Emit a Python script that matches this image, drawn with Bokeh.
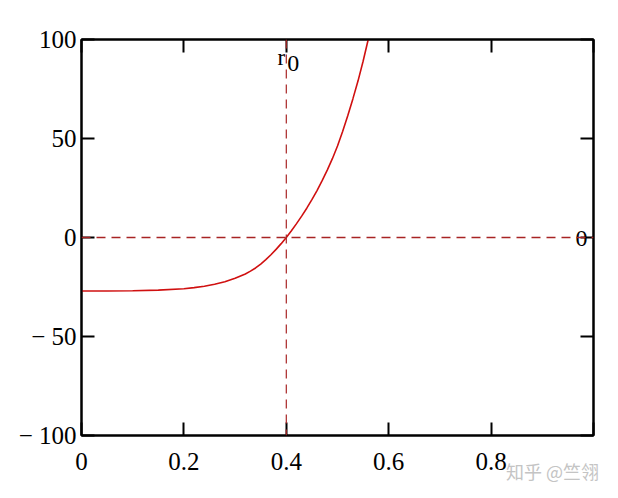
from bokeh.plotting import figure
from bokeh.models import Range1d, LinearAxis, FixedTicker, Span
from bokeh.core.properties import value
from bokeh.embed import file_html
from bokeh.resources import INLINE

# data
x_vals = [0.0, 0.05, 0.10, 0.15, 0.20, 0.22, 0.24, 0.26, 0.28, 0.30, 0.32, 0.33, 0.34,
          0.35, 0.36, 0.37, 0.38, 0.39, 0.40, 0.41, 0.42, 0.43, 0.44, 0.45, 0.46, 0.47,
          0.48, 0.49, 0.50, 0.51, 0.52, 0.53, 0.54, 0.55, 0.56, 0.57]
y_vals = [-27.0, -27.0, -26.9, -26.6, -25.9, -25.3, -24.6, -23.6, -22.3, -20.6, -18.4,
          -17.0, -15.4, -13.4, -11.2, -8.7, -6.0, -3.1, 0.0, 3.4, 7.0, 10.8, 14.8, 19.1,
          23.7, 28.7, 34.0, 39.8, 46.2, 53.5, 61.5, 70.0, 79.0, 89.0, 100.0, 112.0]
r0 = 0.4
y_marker = 0
x_ticks = [0, 0.2, 0.4, 0.6, 0.8]
x_tick_labels = ["0", "0.2", "0.4", "0.6", "0.8"]
y_ticks = [-100, -50, 0, 50, 100]
y_tick_labels = ["\u2212 100", "\u2212 50", "0", "50", "100"]
watermark = "知乎 @竺翎"
watermark_x = 0.92

FONT = "Liberation Serif"

p = figure(output_backend="svg", toolbar_location=None,
           frame_width=512, frame_height=396,
           x_range=Range1d(0, 1), y_range=Range1d(-100, 100),
           min_border_left=81, min_border_top=39, min_border_right=25, min_border_bottom=55,
           x_axis_location=None, y_axis_location=None)
p.grid.visible = False
p.outline_line_color = "black"
p.outline_line_width = 2
p.background_fill_color = "white"
p.border_fill_color = "white"

def style_axis(ax, labels, show_labels):
    ax.axis_line_width = 2
    ax.axis_line_color = "black"
    ax.major_tick_in = 13
    ax.major_tick_out = 0
    ax.major_tick_line_width = 2
    ax.minor_tick_line_color = None
    ax.major_label_text_font = FONT
    ax.major_label_text_font_size = "25px"
    ax.major_label_text_color = "black" if show_labels else None
    ax.major_label_overrides = labels

xl = {t: l for t, l in zip(x_ticks, x_tick_labels)}
xl[1.0] = ""
yl = {t: l for t, l in zip(y_ticks, y_tick_labels)}

bottom = LinearAxis(ticker=FixedTicker(ticks=x_ticks + [1.0]))
style_axis(bottom, xl, True)
bottom.major_label_standoff = 17
top = LinearAxis(ticker=FixedTicker(ticks=x_ticks + [1.0]))
style_axis(top, {}, False)
left = LinearAxis(ticker=FixedTicker(ticks=y_ticks))
style_axis(left, yl, True)
left.major_label_standoff = 5
right = LinearAxis(ticker=FixedTicker(ticks=y_ticks))
style_axis(right, {}, False)

# watermark carried by a bare axis (tick labels are not clipped to the frame)
wm = LinearAxis(ticker=FixedTicker(ticks=[watermark_x]))
wm.axis_line_color = None
wm.major_tick_line_color = None
wm.minor_tick_line_color = None
wm.major_tick_in = 0
wm.major_tick_out = 0
wm.major_label_overrides = {watermark_x: watermark}
wm.major_label_text_font = "Noto Sans CJK SC"
wm.major_label_text_font_size = "18px"
wm.major_label_text_color = "#c4c4c4"
wm.major_label_standoff = -15

p.add_layout(bottom, "below")
p.add_layout(wm, "below")
p.add_layout(left, "left")
p.add_layout(top, "above")
p.add_layout(right, "right")

dash_color = "#a82424"
p.add_layout(Span(location=r0, dimension="height", line_color=dash_color,
                  line_dash="9 6", line_width=1.2))
p.add_layout(Span(location=y_marker, dimension="width", line_color=dash_color,
                  line_dash="9 6", line_width=1.5))

p.line(x_vals, y_vals, line_color="#d01010", line_width=1.6)

# marker labels
p.text(x=[r0], y=[100], text=["r"], text_font=value(FONT), text_font_size="23px",
       text_align="center", text_baseline="top", x_offset=-5, y_offset=5, text_color="black")
p.text(x=[r0], y=[100], text=["0"], text_font=value(FONT), text_font_size="24px",
       text_align="center", text_baseline="top", x_offset=7, y_offset=16, text_color="black")
p.text(x=[1.0], y=[y_marker], text=["0"], text_font=value(FONT), text_font_size="24px",
       text_align="center", text_baseline="middle", x_offset=-12, y_offset=1, text_color="black")

open("out.html", "w").write(file_html(p, INLINE))
